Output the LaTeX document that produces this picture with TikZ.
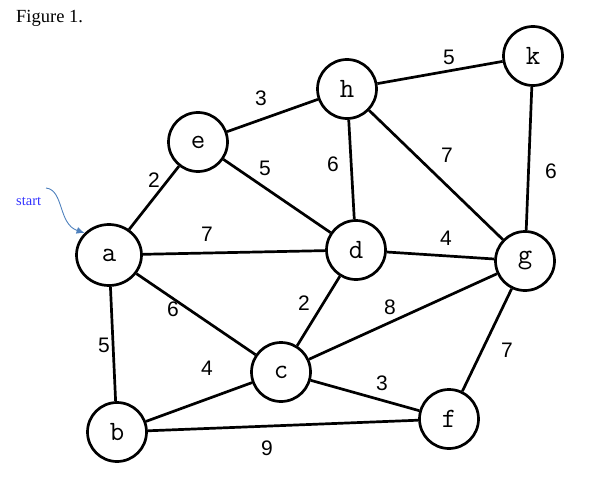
\documentclass[tikz,border=0pt]{standalone}
\usepackage{fontspec}
\setmainfont{Liberation Serif}
\newfontfamily\weightfont{Liberation Sans}
\usetikzlibrary{arrows.meta,shapes.geometric}

\begin{document}
\begin{tikzpicture}[
    x=1pt, y=-1pt,
    vertex/.style={draw, circle, line width=2.7pt, minimum size=59pt, inner sep=0pt,
                   font=\ttfamily\fontsize{28}{28}\selectfont},
    edge/.style={line width=2.7pt},
    weight/.style={font=\weightfont\fontsize{21}{21}\selectfont, inner sep=0pt},
    startarrow/.style={-{Latex[length=8pt,width=7pt]}, line width=0.9pt, color=startblue}
]
\definecolor{startblue}{HTML}{4F81BD}
\useasboundingbox (0,0) rectangle (593,492);

% Title
\node[anchor=base west, font=\fontsize{18.5}{18.5}\selectfont, inner sep=0pt] (title) at (16,23) {Figure 1.};

% Vertices
\node[vertex, ellipse, minimum width=65pt, minimum height=61pt] (a) at (109,255) {a};
\node[vertex] (e) at (198,142) {e};
\node[vertex] (h) at (347,89) {h};
\node[vertex] (k) at (533,56) {k};
\node[vertex] (d) at (356,250) {d};
\node[vertex] (g) at (525,261) {g};
\node[vertex] (c) at (281,372) {c};
\node[vertex] (b) at (117,432) {b};
\node[vertex] (f) at (449,419) {f};

% Edges
\draw[edge] (a) -- (e);
\draw[edge] (e) -- (h);
\draw[edge] (h) -- (k);
\draw[edge] (e) -- (d);
\draw[edge] (h) -- (d);
\draw[edge] (h) -- (g);
\draw[edge] (k) -- (g);
\draw[edge] (a) -- (d);
\draw[edge] (d) -- (g);
\draw[edge] (a) -- (c);
\draw[edge] (d) -- (c);
\draw[edge] (c) -- (g);
\draw[edge] (a) -- (b);
\draw[edge] (b) -- (c);
\draw[edge] (c) -- (f);
\draw[edge] (g) -- (f);
\draw[edge] (b) -- (f);

% Weights
\node[weight] (w-ae) at (154,180) {2};
\node[weight] (w-eh) at (261,98) {3};
\node[weight] (w-hk) at (449,57) {5};
\node[weight] (w-ed) at (265,168) {5};
\node[weight] (w-hd) at (333,164) {6};
\node[weight] (w-hg) at (447,155) {7};
\node[weight] (w-kg) at (551,171) {6};
\node[weight] (w-ad) at (207,234) {7};
\node[weight] (w-dg) at (446,238) {4};
\node[weight] (w-ac) at (173,309) {6};
\node[weight] (w-dc) at (304,303) {2};
\node[weight] (w-cg) at (390,307) {8};
\node[weight] (w-ab) at (104,345) {5};
\node[weight] (w-bc) at (207,368) {4};
\node[weight] (w-cf) at (382,383) {3};
\node[weight] (w-gf) at (507,350) {7};
\node[weight] (w-bf) at (267,448) {9};

% Start marker
\node[anchor=base west, inner sep=0pt, text={rgb,255:red,51;green,51;blue,255},
      font=\fontsize{14.5}{14.5}\selectfont] (start) at (16,205) {start};
\draw[startarrow] (46,188) .. controls (64,190) and (58,224) .. (a.138);

\end{tikzpicture}
\end{document}
